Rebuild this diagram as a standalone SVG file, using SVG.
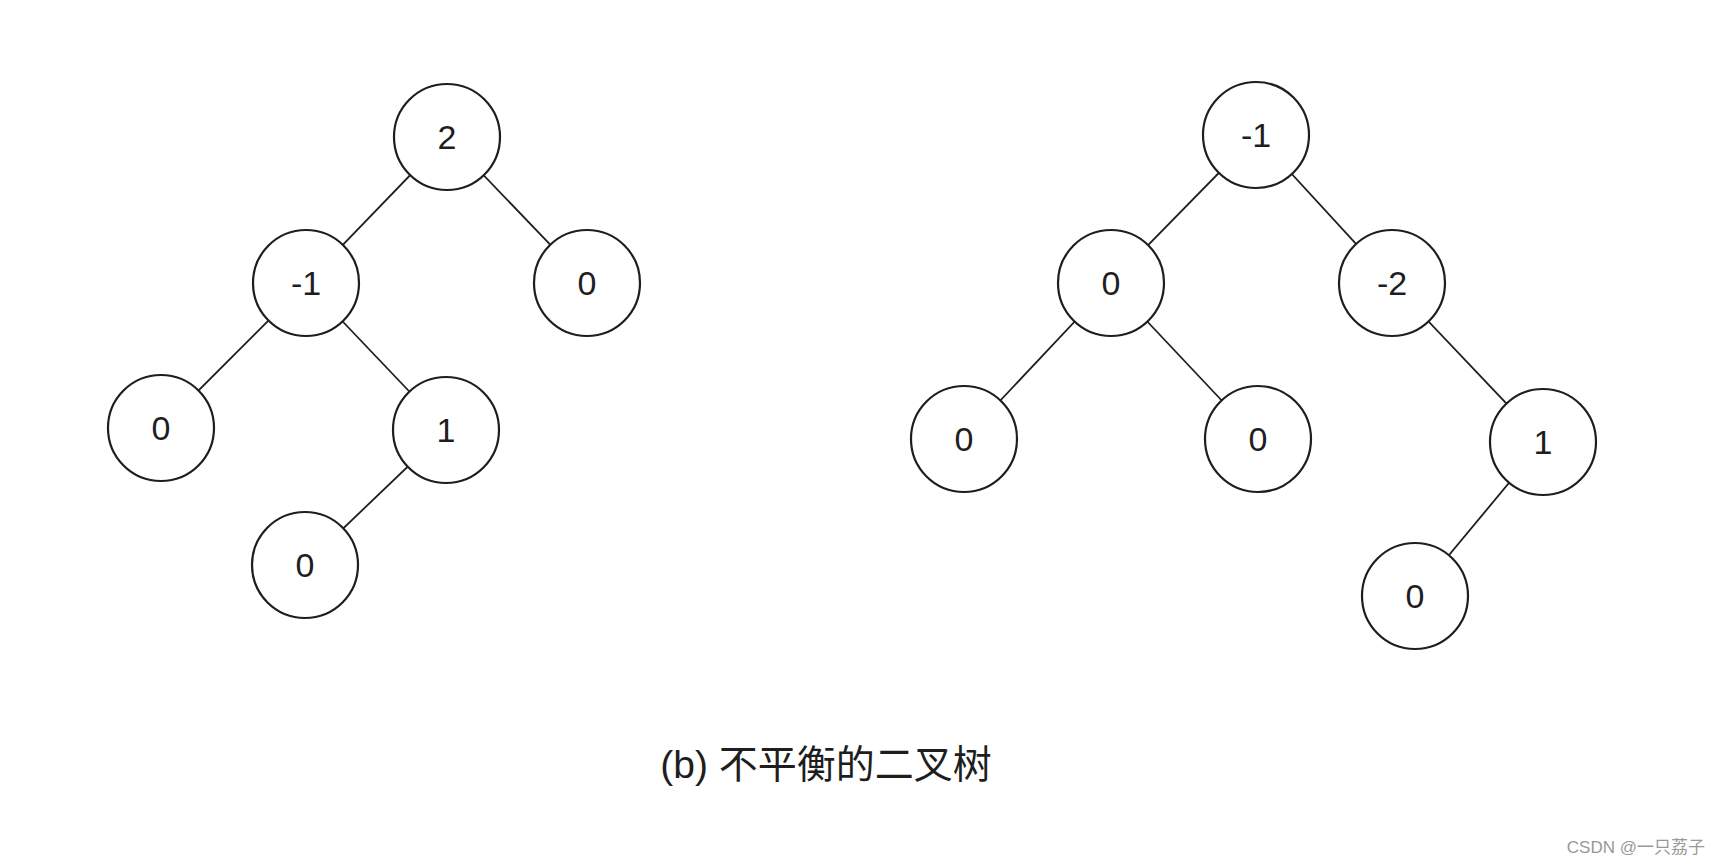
<svg xmlns="http://www.w3.org/2000/svg" width="1722" height="864" viewBox="0 0 1722 864">
<style>
.n circle{fill:#fff;stroke:#1e1e1e;stroke-width:2.2}
.n text{font-family:"Liberation Sans",sans-serif;font-size:34px;fill:#1e1e1e;text-anchor:middle;dominant-baseline:central}
#edges line{stroke:#1e1e1e;stroke-width:1.8}
</style>
<rect width="1722" height="864" fill="#fff"/>
<g id="edges">
<line x1="447" y1="137" x2="306" y2="283"/><line x1="447" y1="137" x2="587" y2="283"/>
<line x1="306" y1="283" x2="161" y2="428"/><line x1="306" y1="283" x2="446" y2="430"/>
<line x1="446" y1="430" x2="305" y2="565"/>
<line x1="1256" y1="135" x2="1111" y2="283"/><line x1="1256" y1="135" x2="1392" y2="283"/>
<line x1="1111" y1="283" x2="964" y2="439"/><line x1="1111" y1="283" x2="1258" y2="439"/>
<line x1="1392" y1="283" x2="1543" y2="442"/><line x1="1543" y1="442" x2="1415" y2="596"/>
</g>
<g id="a" class="n"><circle cx="447" cy="137" r="53"/><text x="447" y="137">2</text></g>
<g id="b" class="n"><circle cx="306" cy="283" r="53"/><text x="306" y="283">-1</text></g>
<g id="c" class="n"><circle cx="587" cy="283" r="53"/><text x="587" y="283">0</text></g>
<g id="d" class="n"><circle cx="161" cy="428" r="53"/><text x="161" y="428">0</text></g>
<g id="e" class="n"><circle cx="446" cy="430" r="53"/><text x="446" y="430">1</text></g>
<g id="f" class="n"><circle cx="305" cy="565" r="53"/><text x="305" y="565">0</text></g>
<g id="g" class="n"><circle cx="1256" cy="135" r="53"/><text x="1256" y="135">-1</text></g>
<g id="h" class="n"><circle cx="1111" cy="283" r="53"/><text x="1111" y="283">0</text></g>
<g id="i" class="n"><circle cx="1392" cy="283" r="53"/><text x="1392" y="283">-2</text></g>
<g id="j" class="n"><circle cx="964" cy="439" r="53"/><text x="964" y="439">0</text></g>
<g id="k" class="n"><circle cx="1258" cy="439" r="53"/><text x="1258" y="439">0</text></g>
<g id="l" class="n"><circle cx="1543" cy="442" r="53"/><text x="1543" y="442">1</text></g>
<g id="m" class="n"><circle cx="1415" cy="596" r="53"/><text x="1415" y="596">0</text></g>
<text x="826" y="778" font-family="'Liberation Sans','Noto Sans CJK SC',sans-serif" font-size="39" fill="#1e1e1e" text-anchor="middle">(b) 不平衡的二叉树</text>
<text x="1705" y="853" font-family="'Liberation Sans','Noto Sans CJK SC',sans-serif" font-size="17" fill="#999" text-anchor="end">CSDN @一只荔子</text>
</svg>
